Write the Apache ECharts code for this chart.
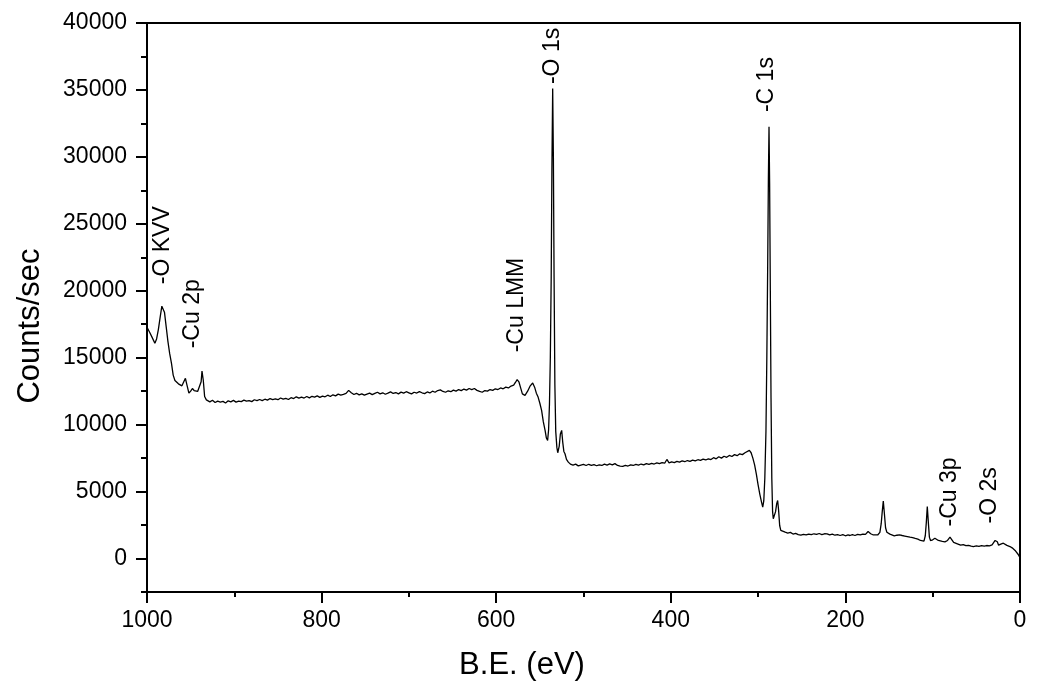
<!DOCTYPE html>
<html>
<head>
<meta charset="utf-8">
<script src="https://cdn.jsdelivr.net/npm/echarts@6/dist/echarts.min.js"></script>
<style>
  html, body { margin: 0; padding: 0; background: #fff; }
  #chart { width: 1040px; height: 696px; }
</style>
</head>
<body>
<div id="chart"></div>
<script>
// XPS survey spectrum, binding energy (eV) vs counts/sec
var spectrum = [
  [1000,17270],[997,16900],[994,16500],[991,16075],[989,16400],[987,17100],[985,18000],[983,18850],[982,18917],[980,18400],
  [978,17300],[976,16200],[974,15300],[972,14600],[970,13700],[968,13300],[966,13200],[964,13050],[962,12950],[960,12900],
  [958,13000],[956,13460],[954,12900],[952,12350],[950,12500],[948,12700],[946,12550],[944,12600],[942,12480],[940,12550],
  [938,13200],[937,14005],[935.5,13300],[934,12100],[932,11850],[930,11810],
  [928,11700],[925,11820],[922,11650],[919,11760],[916,11690],[913,11740],[910,11620],[907,11780],[904,11700],[901,11810],
  [898,11680],[895,11760],[892,11720],[889,11830],[886,11750],[883,11800],[880,11720],[877,11860],[874,11790],[871,11880],
  [868,11800],[865,11900],[862,11830],[859,11950],[856,11870],[853,11920],[850,11860],[847,11990],[844,11900],[841,11960],
  [838,11880],[835,12010],[832,11950],[829,12080],[826,11980],[823,12050],[820,11990],[817,12100],[814,12000],[811,12120],
  [808,12060],[805,12150],[802,12040],[799,12130],[796,12080],[793,12200],[790,12100],[787,12230],[784,12150],[781,12280],
  [778,12200],[775,12260],[772,12330],[769,12560],[766,12380],[763,12250],[760,12340],[757,12220],[754,12300],[751,12200],
  [748,12280],[745,12350],[742,12240],[739,12330],[736,12420],[733,12300],[730,12380],[727,12270],[724,12350],[721,12450],
  [718,12330],[715,12400],[712,12300],[709,12430],[706,12350],[703,12460],[700,12380],[697,12300],[694,12420],[691,12360],
  [688,12470],[685,12380],[682,12320],[679,12440],[676,12370],[673,12500],[670,12420],[667,12550],[664,12600],[661,12480],
  [658,12420],[655,12530],[652,12460],[649,12580],[646,12500],[643,12620],[640,12540],[637,12660],[634,12580],[631,12700],
  [628,12620],[625,12700],[622,12560],[619,12480],[616,12420],[613,12550],[610,12500],[607,12620],[604,12560],[601,12680],
  [598,12620],[595,12740],[592,12680],[589,12800],[586,12740],[583,12880],[580,12950],
  [578,13150],[576,13360],[574,13200],[572,12750],[570,12300],[567,12190],[564,12500],[561,12900],[558.2,13110],[556,12800],
  [554,12350],[552,12060],[550,11600],[548,11066],[546,10200],[544,9570],[542.5,9000],[541.1,8823],[540,9600],[539,11500],
  [538,15000],[537,21000],[536.2,29000],[535.3,35100],[534.5,30000],[533.7,21000],[532.8,13000],[531.8,9500],[530.5,8300],
  [529.5,7900],[528.9,7828],[527.8,8400],[526.5,9300],[525,9570],[523.8,8700],[522.5,8000],[521.2,7828],[519.5,7400],
  [517.4,7200],[515,7050],[512,6980],[509,7050],[506,6920],[503,6980],
  [500,7030],[497,6950],[494,7040],[491,6960],[488,7010],[485,6930],[482,7000],[479,6950],[476,7050],[473,6980],
  [470,7070],[467,7000],[464,7090],[461,6950],[458,6900],[455,6880],[452,6950],[449,6910],[446,7000],[443,6950],
  [440,7030],[437,6980],[434,7060],[431,7000],[428,7090],[425,7030],[422,7110],[419,7060],[416,7150],[413,7090],
  [410,7170],[407,7120],[404.5,7400],[402,7150],[399,7220],[396,7170],[393,7260],[390,7200],[387,7290],[384,7230],
  [381,7320],[378,7260],[375,7350],[372,7290],[369,7380],[366,7330],[363,7420],[360,7360],[357,7450],[354,7390],
  [351,7530],[348,7450],[345,7600],[342,7500],[339,7640],[336,7560],[333,7700],[330,7620],[327,7760],[324,7680],
  [321,7820],[318,7760],[315,7900],[313,8000],[310,8075],[308,7900],[306,7500],[304,7000],[302,6300],[300,5500],
  [298,4800],[296,4200],[294.7,3836],[293.5,4300],[292.3,6000],[291,9500],[290,15000],[289,22000],[288.2,28500],
  [287.5,32250],[286.8,28000],[286,20000],[285.2,12000],[284.3,6000],[283.4,3500],[282.6,2968],[281.5,3100],[280,3500],
  [278.7,4100],[277.6,4337],[276.5,3600],[275.3,2467],[274,2100],[272,2000],[269,1966],
  [266,1900],[263,1950],[260,1830],[257,1880],[254,1790],[251,1740],[248,1800],[245,1760],[242,1830],[239,1780],
  [236,1850],[233,1800],[230,1870],[227,1790],[224,1850],[221,1845],[218,1760],[215,1820],[212,1740],[209,1790],
  [206,1720],[203,1780],[200,1700],[197,1760],[194.7,1720],[192,1780],[189,1720],[186,1800],[183,1760],[180,1830],
  [177,1800],[174,2019],[171,1850],[168,1760],[166,1720],[163,1760],[160.5,1950],[159,2600],[157.8,3500],[156.6,4285],
  [155.4,3400],[154,2300],[152.5,1966],[151,2000],[149,1820],[147,1720],[144,1700],[141,1740],[138,1770],[135,1720],
  [132,1680],[129,1640],[126,1595],[123,1560],[120,1500],[117,1450],[114,1350],[112.6,1296],[110,1300],[108.5,1700],
  [107.3,2700],[106.2,3888],[105,2700],[103.8,1600],[102.5,1346],[100,1400],[97.5,1520],[95.4,1470],[93.5,1350],[91.6,1221],
  [89,1280],[86,1240],[83,1350],[80.2,1595],[78,1400],[76,1200],[74.4,1097],[71,1080],[68,1000],[65,1040],
  [62,960],[59,990],[56,920],[53.5,897],[50,950],[47,910],[44,960],[41,930],[38.2,972],[35,950],
  [32,1020],[30,1150],[28.5,1350],[27.5,1470],[26,1250],[24.5,1000],[23.7,972],[22,1080],[20.5,1150],[19.1,1146],
  [17,1050],[15,980],[13,940],[11.5,897],[9,800],[7,680],[5,560],[3.8,470],[2,300],[0.8,150],[0,100]
];

// peak annotations: label and where its text starts
var peakNames = ['-O KVV', '-Cu 2p', '-Cu LMM', '-O 1s', '-C 1s', '-Cu 3p', '-O 2s'];
var peakPos = [[981.7,20487],[947.3,15702],[576.2,15403],[535,35441],[289.8,33347],[80.2,2393],[34.4,2617]];

var yLabelTicks = [0,5000,10000,15000,20000,25000,30000,35000,40000];
var yMinorTicks = [-2500,2500,7500,12500,17500,22500,27500,32500,37500];

var fontName = '"Liberation Sans", Arial, sans-serif';

var chart = echarts.init(document.getElementById('chart'));

var peakData = [];
for (var i = 0; i < peakNames.length; i++) {
  peakData.push({ name: peakNames[i], value: peakPos[i] });
}

function plain(v) { return String(v); }

var option = {
  animation: false,
  backgroundColor: '#fff',
  grid: {
    left: 147, top: 23, right: 20, bottom: 104,
    show: true, borderColor: '#000', borderWidth: 2
  },
  xAxis: {
    type: 'value', min: 0, max: 1000, interval: 200, inverse: true,
    axisLine: { onZero: false, lineStyle: { color: '#000', width: 2 } },
    axisTick: { length: 11, lineStyle: { color: '#000', width: 2 } },
    minorTick: { show: true, splitNumber: 2, length: 5, lineStyle: { color: '#000', width: 2 } },
    axisLabel: { color: '#000', fontSize: 23, fontFamily: fontName, margin: 17, formatter: plain },
    splitLine: { show: false },
    minorSplitLine: { show: false }
  },
  yAxis: [{
    type: 'value', min: -2500, max: 40000, position: 'left',
    axisLine: { show: true, onZero: false, lineStyle: { color: '#000', width: 2 } },
    axisTick: { show: true, length: 11, customValues: yLabelTicks, lineStyle: { color: '#000', width: 2 } },
    axisLabel: { color: '#000', fontSize: 23, fontFamily: fontName, margin: 20, customValues: yLabelTicks, formatter: plain },
    splitLine: { show: false }
  }, {
    type: 'value', min: -2500, max: 40000, position: 'left',
    axisLine: { show: false, onZero: false },
    axisTick: { show: true, length: 6, customValues: yMinorTicks, lineStyle: { color: '#000', width: 2 } },
    axisLabel: { show: false },
    splitLine: { show: false }
  }],
  graphic: [{
    type: 'text', x: 30, y: 326, rotation: Math.PI / 2,
    style: { text: 'Counts/sec', font: '31px ' + fontName, fill: '#000', align: 'center', verticalAlign: 'middle' }
  }, {
    type: 'text', x: 522, y: 665,
    style: { text: 'B.E. (eV)', font: '31px ' + fontName, fill: '#000', align: 'center', verticalAlign: 'middle' }
  }],
  series: [{
    type: 'line',
    data: spectrum,
    showSymbol: false,
    symbol: 'none',
    lineStyle: { color: '#000', width: 1.3 },
    silent: true
  }, {
    type: 'scatter',
    data: peakData,
    symbolSize: 0,
    silent: true,
    itemStyle: { opacity: 1 },
    label: {
      show: true, formatter: '{b}', position: [0, 0], rotate: 90,
      align: 'left', verticalAlign: 'middle',
      color: '#000', fontSize: 23, fontFamily: fontName
    }
  }]
};

chart.setOption(option);
</script>
</body>
</html>
